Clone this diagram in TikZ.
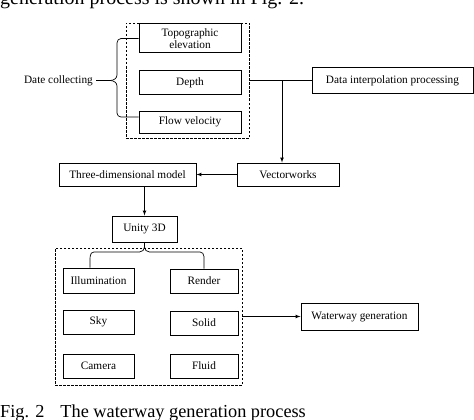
\documentclass[tikz,border=0pt]{standalone}
\usepackage{fontspec}
\setmainfont{Liberation Serif}
\usetikzlibrary{arrows,positioning}

\begin{document}
\begin{tikzpicture}[x=1pt,y=-1pt,>=latex,
    box/.style = {draw, line width=1pt, inner sep=0pt, align=center,
                  font=\fontsize{11.3}{12}\selectfont},
    group/.style = {draw, line width=0.8pt, dash pattern=on 2.5pt off 1.5pt, inner sep=0pt},
    link/.style = {line width=0.7pt}]
\clip (0,0) rectangle (474,420);
% text of the page
\node[anchor=base west, inner sep=0pt, font=\fontsize{20}{22}\selectfont] (txt) at (0,4.5)
    {generation process is shown in Fig. 2.};
% data collecting
\node[group, minimum width=123pt, minimum height=115pt] (g1) at (187.5,80.5) {};
\node[box, minimum width=102pt, minimum height=29pt] (topo) at (190,38.5) {Topographic\\elevation};
\node[box, minimum width=102pt, minimum height=23pt] (depth) at (190,82.5) {Depth};
\node[box, minimum width=102pt, minimum height=22pt] (flow) at (190,122) {Flow velocity};
\node[anchor=east, inner sep=0pt, font=\fontsize{11.3}{12}\selectfont] (dc) at (93,80.5) {Date collecting};
\node[box, minimum width=161pt, minimum height=25pt] (interp) at (392.5,80.5) {Data interpolation processing};
\node[box, minimum width=102pt, minimum height=23pt] (vector) at (288,174.5) {Vectorworks};
\node[box, minimum width=137pt, minimum height=23pt] (model) at (127.5,174.5) {Three-dimensional model};
\node[box, minimum width=65pt, minimum height=26pt] (unity) at (144.5,229) {Unity 3D};
% unity modules
\node[group, minimum width=187pt, minimum height=137pt] (g2) at (148.5,316.5) {};
\node[box, minimum width=71pt, minimum height=25pt] (illum) at (98.5,280.5) {Illumination};
\node[box, minimum width=68pt, minimum height=24pt] (render) at (204,281) {Render};
\node[box, minimum width=71pt, minimum height=24pt] (sky) at (98.5,322) {Sky};
\node[box, minimum width=68pt, minimum height=24pt] (solid) at (204,323) {Solid};
\node[box, minimum width=71pt, minimum height=24pt] (camera) at (98.5,366) {Camera};
\node[box, minimum width=68pt, minimum height=24pt] (fluid) at (204,366) {Fluid};
\node[box, minimum width=117pt, minimum height=27pt] (water) at (359.5,316.5) {Waterway generation};
\node[anchor=base west, inner sep=0pt, font=\fontsize{18.3}{20}\selectfont] (cap) at (0,417)
    {Fig. 2\hspace{16pt}The waterway generation process};
% braces
\draw[link] (topo.west) -- (121,38.5) to[out=180,in=90] (117,43) -- (117,75)
    to[out=-90,in=0] (110,80.5);
\draw[link] ([yshift=5pt]flow.west) -- (121,117) to[out=180,in=-90] (117,113) -- (117,86)
    to[out=90,in=0] (110,80.5);
\draw[link] (dc.east) ++(3pt,0) -- (110,80.5);
\draw[link] (unity.south) -- (144.5,247) to[out=-90,in=0] (139.5,252) -- (94,252)
    to[out=180,in=90] ([xshift=-8.5pt,yshift=4pt]illum.north) -- ([xshift=-8.5pt]illum.north);
\draw[link] (144.5,247) to[out=-90,in=180] (149.5,252) -- (200,252)
    to[out=0,in=90] ([yshift=4pt]render.north) -- (render.north);
% connectors
\coordinate (j) at (282,80.5);
\draw[link] (g1.east) -- (interp.west);
\draw[link,->] (j) -- (j |- vector.north);
\draw[link,->] (vector.west) -- (model.east);
\draw[link,->] (model.south -| unity.north) -- (unity.north);
\draw[link,->] (g2.east) -- (water.west);
\end{tikzpicture}
\end{document}
